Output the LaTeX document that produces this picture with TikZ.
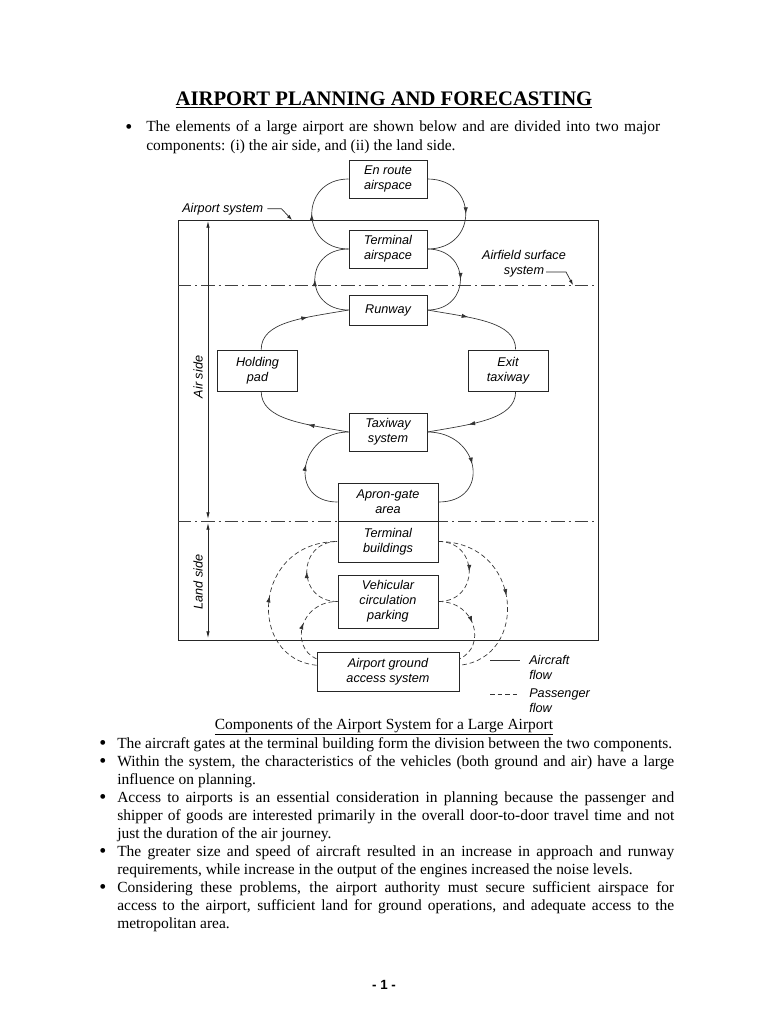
\documentclass[tikz,border=0pt]{standalone}
\usepackage{fontspec}
\setmainfont{Liberation Serif}
\setsansfont{Liberation Sans}
\usetikzlibrary{arrows.meta,decorations.markings}
\newcommand{\labelfont}{\sffamily\itshape\fontsize{9.5}{11.25}\selectfont}
\newcommand{\bodyfont}{\fontsize{11.6}{13.5}\selectfont}

\tikzset{
  box/.style={draw=black!85,line width=0.75pt,inner sep=0pt,align=center,font=\labelfont},
  unitbox/.style={box,minimum width=58.5pt,minimum height=28.5pt},
  sidebox/.style={box,minimum width=60pt,minimum height=30.75pt},
  widebox/.style={box,minimum width=75pt},
  aircraft/.style={draw=black!80,line width=0.5pt},
  passenger/.style={aircraft,dash pattern=on 3.5pt off 2.2pt},
  flowtip/.style={postaction={decorate},decoration={markings,
      mark=at position #1 with {\arrow{Latex[length=5pt,width=3.2pt]}}}},
  divider/.style={draw=black!75,line width=0.6pt,dash pattern=on 10pt off 3pt on 1.5pt off 3pt},
  dimline/.style={draw=black!85,line width=0.6pt,{Latex[length=5pt,width=2.6pt]}-{Latex[length=5pt,width=2.6pt]}},
  leader/.style={draw=black!85,line width=0.5pt,-{Latex[length=4pt,width=2.6pt]}},
  bodytext/.style={anchor=base west,inner sep=0pt,text width=417.75pt,align=justify,font=\bodyfont},
  dot/.style={anchor=base west,inner sep=0pt,font=\fontsize{15}{13.5}\selectfont}
}

\begin{document}
\begin{tikzpicture}[x=0.75pt,y=-0.75pt]
\fill[white] (0,0) rectangle (768,1024);
\useasboundingbox (0,0) rectangle (768,1024);

% heading and first bullet
\node (title) at (384,100) {\fontsize{15.5}{17}\selectfont\bfseries\underline{AIRPORT PLANNING AND FORECASTING}};
\node[dot] (dotA) at (125,133) {\textbullet};
\node[bodytext,text width=385.5pt] (parA) at (146,132) {The elements of a large airport are shown below and are divided into two major\linebreak components: (i) the air side, and (ii) the land side.};

% airport system frame
\coordinate (sysNW) at (178,220);
\coordinate (sysSE) at (598,640);
\draw[black!85,line width=0.75pt] (sysNW) rectangle (sysSE);
\coordinate (airL) at (178,285);
\coordinate (airR) at (598,285);
\coordinate (landL) at (178,521);
\coordinate (landR) at (598,521);
\draw[divider] (airL) -- (airR);
\draw[divider] (landL) -- (landR);

% side dimensions
\coordinate (airTop) at (208,221);
\coordinate (airBot) at (208,519);
\coordinate (landTop) at (208,523);
\coordinate (landBot) at (208,638);
\draw[dimline] (airTop) -- (airBot);
\draw[dimline] (landTop) -- (landBot);
\node[font=\labelfont,rotate=90] (airside) at (198,377) {Air side};
\node[font=\labelfont,rotate=90] (landside) at (198,582) {Land side};

% elements
\node[unitbox] (enroute) at (388,179) {En route\\airspace};
\node[unitbox] (termair) at (388,249) {Terminal\\airspace};
\node[unitbox,minimum height=22.5pt] (runway) at (388,310) {Runway};
\node[sidebox] (holding) at (257.5,370.5) {Holding\\pad};
\node[sidebox] (exittaxi) at (508,370.5) {Exit\\taxiway};
\node[unitbox] (taxisys) at (388,432) {Taxiway\\system};
\node[widebox,minimum height=28.5pt] (apron) at (388,502) {Apron-gate\\area};
\node[widebox,minimum height=30.75pt] (termbld) at (388,541.5) {Terminal\\buildings};
\node[widebox,minimum height=39.75pt] (vehicle) at (388,601.5) {Vehicular\\circulation\\parking};
\node[box,minimum width=106.5pt,minimum height=29.25pt] (ground) at (388,671.5) {Airport ground\\access system};

% labels with leaders
\node[font=\labelfont,anchor=base west,inner sep=0pt] (syslab) at (182,212) {Airport system};
\coordinate (sysTip) at (292,220);
\draw[leader] ([xshift=3pt]syslab.east) -- ++(14,0) -- (sysTip);
\node[font=\labelfont,align=center] (afslab) at (524,264) {Airfield surface\\system};
\coordinate (afsLead) at (546,272);
\coordinate (afsTip) at (573,285);
\draw[leader] (afsLead) -- ++(20,0) -- (afsTip);

% aircraft flow
\draw[aircraft,flowtip=0.5] (termair.west) .. controls +(-49,0) and +(-49,0) .. (enroute.west);
\draw[aircraft,flowtip=0.5] (enroute.east) .. controls +(51,0) and +(51,0) .. (termair.east);
\draw[aircraft,flowtip=0.5] (runway.west) .. controls +(-45,0) and +(-45,0) .. (termair.west);
\draw[aircraft,flowtip=0.5] (termair.east) .. controls +(44,0) and +(44,0) .. (runway.east);
\draw[aircraft,flowtip=0.4] (runway.east) .. controls +(45,8) and +(0,-28) .. (exittaxi.70);
\draw[aircraft,flowtip=0.6] (holding.80) .. controls +(0,-28) and +(-45,8) .. (runway.west);
\draw[aircraft,flowtip=0.6] (exittaxi.290) .. controls +(0,28) and +(45,-8) .. (taxisys.east);
\draw[aircraft,flowtip=0.4] (taxisys.west) .. controls +(-45,-8) and +(0,28) .. (holding.280);
\draw[aircraft,flowtip=0.5] (apron.west) .. controls +(-50,0) and +(-50,0) .. (taxisys.west);
\draw[aircraft,flowtip=0.5] (taxisys.east) .. controls +(53,0) and +(53,0) .. (apron.east);

% passenger flow
\draw[passenger,flowtip=0.5] (vehicle.west) .. controls +(-41,0) and +(-41,0) .. (termbld.west);
\draw[passenger,flowtip=0.5] (termbld.east) .. controls +(41,0) and +(41,0) .. (vehicle.east);
\draw[passenger,flowtip=0.5] (ground.175) .. controls +(-70,-7) and +(-85,0) .. (termbld.west);
\draw[passenger,flowtip=0.5] (termbld.east) .. controls +(85,0) and +(70,-7) .. (ground.5);
\draw[passenger,flowtip=0.5] (ground.170) .. controls +(-27,-12) and +(-38,0) .. (vehicle.west);
\draw[passenger,flowtip=0.5] (vehicle.east) .. controls +(38,0) and +(27,-12) .. (ground.10);

% legend
\coordinate (keyA1) at (490,660);
\coordinate (keyA2) at (520,660);
\coordinate (keyP1) at (490,694);
\coordinate (keyP2) at (520,694);
\draw[aircraft] (keyA1) -- (keyA2);
\draw[passenger] (keyP1) -- (keyP2);
\node[font=\labelfont,align=left,anchor=west,inner sep=0pt] (keyA) at (529,667) {Aircraft\\flow};
\node[font=\labelfont,align=left,anchor=west,inner sep=0pt] (keyP) at (529,701) {Passenger\\flow};

% caption and remaining bullets
\node (caption) at (384,727) {\bodyfont\underline{Components of the Airport System for a Large Airport}};
\node[dot] (dotB) at (99,749) {\textbullet};
\node[bodytext] (parB) at (117,748) {The aircraft gates at the terminal building form the division between the two components.};
\node[dot] (dotC) at (99,767) {\textbullet};
\node[bodytext] (parC) at (117,766) {Within the system, the characteristics of the vehicles (both ground and air) have a large\linebreak influence on planning.};
\node[dot] (dotD) at (99,803) {\textbullet};
\node[bodytext] (parD) at (117,802) {Access to airports is an essential consideration in planning because the passenger and\linebreak shipper of goods are interested primarily in the overall door-to-door travel time and not\linebreak just the duration of the air journey.};
\node[dot] (dotE) at (99,857) {\textbullet};
\node[bodytext] (parE) at (117,856) {The greater size and speed of aircraft resulted in an increase in approach and runway\linebreak requirements, while increase in the output of the engines increased the noise levels.};
\node[dot] (dotF) at (99,893) {\textbullet};
\node[bodytext] (parF) at (117,892) {Considering these problems, the airport authority must secure sufficient airspace for\linebreak access to the airport, sufficient land for ground operations, and adequate access to the\linebreak metropolitan area.};

% page number
\node[font=\sffamily\bfseries\fontsize{10}{12}\selectfont] (pageno) at (384,985) {- 1 -};
\end{tikzpicture}
\end{document}
